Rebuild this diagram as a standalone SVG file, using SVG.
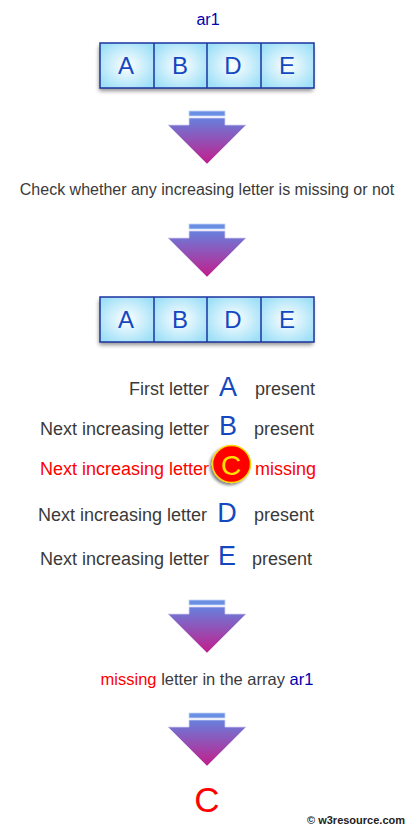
<svg xmlns="http://www.w3.org/2000/svg" width="415" height="836" viewBox="0 0 415 836">
<defs>
<radialGradient id="cellg" cx="50%" cy="50%" r="60%">
<stop offset="0" stop-color="#ffffff"/>
<stop offset="1" stop-color="#9fe0f8"/>
</radialGradient>
<linearGradient id="arrg" x1="0" y1="0" x2="0" y2="1">
<stop offset="0" stop-color="#6680dd"/>
<stop offset="1" stop-color="#c41d8a"/>
</linearGradient>
<filter id="sh" x="-10%" y="-20%" width="120%" height="150%">
<feGaussianBlur in="SourceAlpha" stdDeviation="2"/>
<feOffset dx="-1" dy="3" result="b"/>
<feComponentTransfer><feFuncA type="linear" slope="0.45"/></feComponentTransfer>
<feMerge><feMergeNode/><feMergeNode in="SourceGraphic"/></feMerge>
</filter>
<filter id="csh" x="-30%" y="-30%" width="160%" height="160%">
<feGaussianBlur in="SourceAlpha" stdDeviation="1.5"/>
<feOffset dx="-2" dy="2" result="b"/>
<feComponentTransfer><feFuncA type="linear" slope="0.5"/></feComponentTransfer>
<feMerge><feMergeNode/><feMergeNode in="SourceGraphic"/></feMerge>
</filter>
<g id="arrow">
<rect x="189" y="0" width="36" height="5" fill="#6a90e6" stroke="#c8d4f6" stroke-width="0.8"/>
<path d="M189 7 H225 V14 H246 L207 53 L168 14 H189 Z" fill="url(#arrg)" stroke="#d6d0f0" stroke-width="0.8"/>
</g>
<g id="cells">
<rect x="100" y="0" width="214" height="45" fill="#9fe0f8" filter="url(#sh)"/>
<rect x="100" y="0" width="54" height="45" fill="url(#cellg)"/>
<rect x="154" y="0" width="53" height="45" fill="url(#cellg)"/>
<rect x="207" y="0" width="54" height="45" fill="url(#cellg)"/>
<rect x="261" y="0" width="53" height="45" fill="url(#cellg)"/>
<g fill="none" stroke="#1b35a0" stroke-width="1.5">
<rect x="100" y="0" width="214" height="45"/>
<line x1="154" y1="0" x2="154" y2="45"/>
<line x1="207" y1="0" x2="207" y2="45"/>
<line x1="261" y1="0" x2="261" y2="45"/>
</g>
<g class="cl">
<text x="126" y="31">A</text>
<text x="180" y="31">B</text>
<text x="233" y="31">D</text>
<text x="287" y="31">E</text>
</g>
</g>
</defs>
<style>
text { font-family: "Liberation Sans", Arial, sans-serif; }
.cl text { font-size: 24px; fill: #1448c0; text-anchor: middle; }
.g { fill: #3a3a3a; font-size: 18px; }
.r { fill: #ff0000; font-size: 18px; }
.big { fill: #1448c0; font-size: 27px; text-anchor: middle; }
.blue { fill: #0000b0; }
</style>
<rect width="415" height="836" fill="#ffffff"/>

<g id="title"><text x="208" y="25" font-size="16" class="blue" text-anchor="middle">ar1</text></g>
<g id="array1"><use href="#cells" y="43"/></g>
<g id="connectors">
<use href="#arrow" y="111"/>
<use href="#arrow" y="224"/>
<use href="#arrow" y="600"/>
<use href="#arrow" y="713"/>
</g>
<g id="check"><text x="207" y="195" font-size="16" fill="#3a3a3a" text-anchor="middle">Check whether any increasing letter is missing or not</text></g>
<g id="array2"><use href="#cells" y="297"/></g>

<g id="row1">
<text class="g" x="209" y="395" text-anchor="end">First letter</text>
<text class="big" x="228" y="396">A</text>
<text class="g" x="255" y="395">present</text>
</g>
<g id="row2">
<text class="g" x="209" y="435" text-anchor="end">Next increasing letter</text>
<text class="big" x="228" y="435">B</text>
<text class="g" x="254" y="435">present</text>
</g>
<g id="row3">
<text class="r" x="209" y="475" text-anchor="end">Next increasing letter</text>
<ellipse cx="231.5" cy="464" rx="19" ry="18.5" fill="#ff0000" stroke="#ffd700" stroke-width="1.5" filter="url(#csh)"/>
<text x="231" y="475" font-size="28" fill="#ffe000" text-anchor="middle">C</text>
<text class="r" x="255" y="475">missing</text>
</g>
<g id="row4">
<text class="g" x="207" y="521" text-anchor="end">Next increasing letter</text>
<text class="big" x="227" y="522">D</text>
<text class="g" x="254" y="521">present</text>
</g>
<g id="row5">
<text class="g" x="209" y="565" text-anchor="end">Next increasing letter</text>
<text class="big" x="227" y="565">E</text>
<text class="g" x="252" y="565">present</text>
</g>
<g id="result-label"><text x="207" y="685" font-size="16.5" fill="#3a3a3a" text-anchor="middle"><tspan fill="#ff0000">missing</tspan> letter in the array <tspan fill="#0000b0">ar1</tspan></text></g>
<g id="result"><text x="207" y="812" font-size="35" fill="#ff0000" text-anchor="middle">C</text></g>
<g id="credit"><text x="405" y="824" font-size="11" font-weight="bold" fill="#222222" text-anchor="end">© w3resource.com</text></g>
</svg>
